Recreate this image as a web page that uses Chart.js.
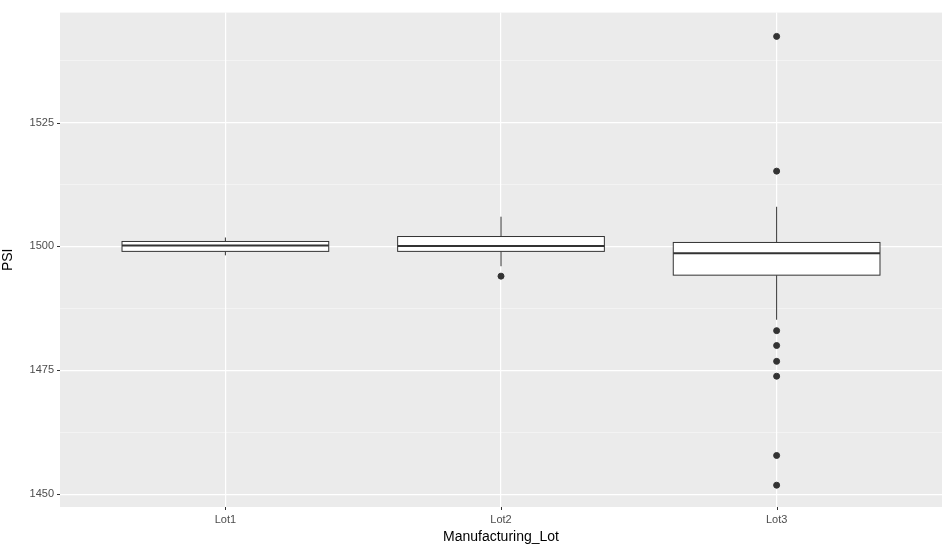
<!DOCTYPE html>
<html><head><meta charset="utf-8">
<script src="https://cdn.jsdelivr.net/npm/chart.js@4"></script>
<style>html,body{margin:0;padding:0;background:#fff}#w{width:951px;height:548px}</style>
</head><body><div id="w"><canvas id="c"></canvas></div>
<script>
const categories = ["Lot1","Lot2","Lot3"];
const q1 = [1499.0, 1499.0, 1494.2];
const median = [1500.2, 1500.1, 1498.6];
const q3 = [1501.0, 1502.0, 1500.8];
const whiskLow = [1498.2, 1496.0, 1485.2];
const whiskHigh = [1501.8, 1506.0, 1508.0];
const outliersLot2 = [1494];
const outliersLot3 = [1542.4, 1515.2, 1483, 1480, 1476.8, 1473.8, 1457.8, 1451.8];
const yTicks = [1450, 1475, 1500, 1525];

const outlierPts = [];
outliersLot2.forEach(v => outlierPts.push({x: 2, y: v}));
outliersLot3.forEach(v => outlierPts.push({x: 3, y: v}));

const boxPlugin = {
  id: 'box',
  beforeDraw(chart) {
    const {ctx, chartArea: a} = chart;
    ctx.save(); ctx.fillStyle = '#EBEBEB';
    ctx.fillRect(a.left, a.top, a.right - a.left, a.bottom - a.top); ctx.restore();
  },
  beforeDatasetsDraw(chart) {
    const {ctx, scales: {x, y}, chartArea: a} = chart;
    ctx.save();
    ctx.strokeStyle = '#333'; ctx.lineWidth = 1;
    // tick marks
    yTicks.forEach(t => { const py = Math.round(y.getPixelForValue(t)) + 0.5;
      ctx.beginPath(); ctx.moveTo(a.left - 3, py); ctx.lineTo(a.left, py); ctx.stroke(); });
    categories.forEach((c, i) => { const px = Math.round(x.getPixelForValue(i + 1)) + 0.5;
      ctx.beginPath(); ctx.moveTo(px, a.bottom); ctx.lineTo(px, a.bottom + 3); ctx.stroke(); });
    categories.forEach((c, i) => {
      const cx = x.getPixelForValue(i + 1);
      const l = x.getPixelForValue(i + 1 - 0.375), r = x.getPixelForValue(i + 1 + 0.375);
      const yq1 = y.getPixelForValue(q1[i]), yq3 = y.getPixelForValue(q3[i]);
      ctx.lineWidth = 1;
      ctx.beginPath(); ctx.moveTo(cx, y.getPixelForValue(whiskHigh[i])); ctx.lineTo(cx, yq3);
      ctx.moveTo(cx, yq1); ctx.lineTo(cx, y.getPixelForValue(whiskLow[i])); ctx.stroke();
      ctx.fillStyle = '#fff';
      ctx.fillRect(l, yq3, r - l, yq1 - yq3);
      ctx.strokeRect(l, yq3, r - l, yq1 - yq3);
      ctx.lineWidth = 2;
      const ym = y.getPixelForValue(median[i]);
      ctx.beginPath(); ctx.moveTo(l, ym); ctx.lineTo(r, ym); ctx.stroke();
    });
    ctx.restore();
  }
};

new Chart(document.getElementById('c'), {
  type: 'scatter',
  data: { datasets: [{ data: outlierPts, backgroundColor: '#333', borderColor: '#333', pointRadius: 3, pointHoverRadius: 3 }] },
  options: {
    responsive: true, maintainAspectRatio: false, animation: false,
    layout: { padding: { left: 0, right: 9, top: 8, bottom: 0 } },
    plugins: { legend: { display: false }, tooltip: { enabled: false } },
    scales: {
      x: {
        type: 'linear', min: 0.4, max: 3.6,
        afterBuildTicks(s) { s.ticks = categories.map((c, i) => ({ value: i + 1 })); },
        afterFit(s) { s.height = 41; },
        grid: { color: '#fff', lineWidth: 1.2, drawTicks: false },
        border: { display: false },
        ticks: { padding: 6, color: '#4D4D4D', font: { family: 'Liberation Sans', size: 11 },
          callback: (v) => categories[Math.round(v) - 1] || '' },
        title: { display: true, text: 'Manufacturing_Lot', color: '#000', font: { family: 'Liberation Sans', size: 14 }, padding: { top: 0, bottom: 2 } }
      },
      y: {
        min: 1447.4, max: 1547.2,
        afterBuildTicks(s) { const t = []; for (let v = 1450; v <= 1545; v += 12.5) t.push({ value: v }); s.ticks = t; },
        afterFit(s) { s.width = 60; },
        grid: { color: (c) => (c.tick && c.tick.value % 25 === 0) ? '#fff' : 'rgba(255,255,255,0.7)',
          lineWidth: (c) => (c.tick && c.tick.value % 25 === 0) ? 1.2 : 0.6, drawTicks: false },
        border: { display: false },
        ticks: { padding: 6, color: '#4D4D4D', font: { family: 'Liberation Sans', size: 11 },
          callback: (v) => v % 25 === 0 ? String(v) : '' },
        title: { display: true, text: 'PSI', color: '#000', font: { family: 'Liberation Sans', size: 14 }, padding: { top: 0, bottom: 4 } }
      }
    }
  },
  plugins: [boxPlugin]
});
</script></body></html>
